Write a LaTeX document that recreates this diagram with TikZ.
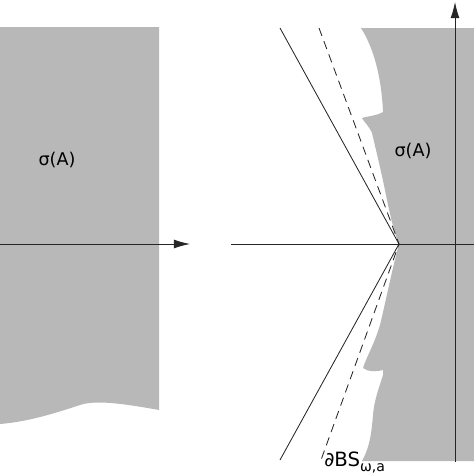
\documentclass[tikz,border=0pt]{standalone}
\usepackage{fontspec}
\setmainfont{DejaVu Sans}
\usetikzlibrary{arrows.meta}
\definecolor{specgray}{RGB}{184,184,184}
\begin{document}
\begin{tikzpicture}[x=0.025cm, y=-0.025cm,
    axis/.style={line width=0.6pt, black!85, -{Latex[length=4mm,width=2.2mm]}},
    ray/.style={line width=0.6pt, black!85},
    lbl/.style={font=\fontsize{12.5}{14}\selectfont}]

        \useasboundingbox (0,0) rectangle (474,474);

        % Left picture: spectrum as a half-plane
        \fill[specgray] (0,27) -- (159,27) -- (159,410)
            .. controls (120,403) and (95,400) .. (80,405)
            .. controls (50,415) and (25,422) .. (0,424) -- cycle;
        \node[lbl] (sigl) at (57,160) {σ(A)};
        \draw[axis] (0,244) -- (190,244);

        % Right picture: spectrum with rough boundary
        \fill[specgray] (361,28) -- (474,28) -- (474,461) -- (362,461)
            .. controls (368,450) and (371,440) .. (373,415)
            .. controls (374,400) and (380,385) .. (383,375)
            -- (383,370)
            .. controls (376,372) and (368,372) .. (363,368)
            .. controls (366,358) and (374,345) .. (380,325)
            .. controls (386,300) and (392,270) .. (399,244)
            .. controls (394,232) and (390,215) .. (386,195)
            .. controls (382,175) and (376,150) .. (372,133)
            .. controls (369,126) and (364,122) .. (362,118)
            .. controls (368,116) and (376,116) .. (383,112)
            .. controls (382,90) and (378,55) .. (361,28);
        \node[lbl] (sigr) at (413,151) {σ(A)};

        % Sector boundaries
        \draw[ray] (280,28) -- (399,244) -- (280,460);
        \draw[ray, dashed, dash pattern=on 6pt off 4pt] (319,28) -- (399,244) -- (321,460);
        \node[lbl, anchor=base west, inner sep=0pt] (bs) at (324,466)
            {\fontsize{14}{16}\selectfont ∂BS\raisebox{-0.55ex}{\fontsize{10}{11}\selectfont ω,a}};

        % Axes
        \draw[ray] (231,244) -- (474,244);
        \draw[axis] (455,462) -- (455,2);
    \end{tikzpicture}
\end{document}
